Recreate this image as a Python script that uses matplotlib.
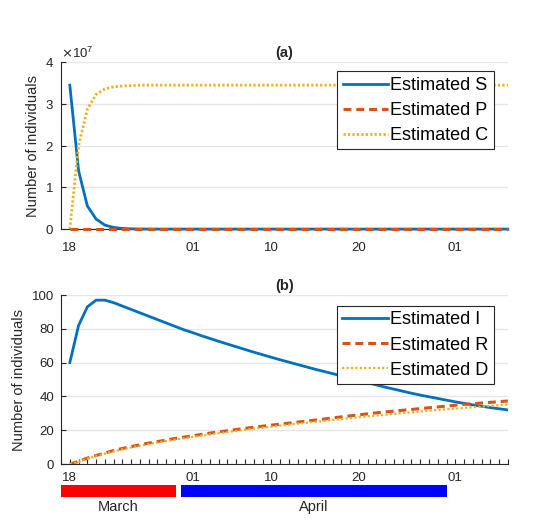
import numpy as np
import pandas as pd
import matplotlib
matplotlib.use("Agg")
import matplotlib.pyplot as plt
import matplotlib.dates as mdates
from matplotlib.ticker import ScalarFormatter

plt.rcParams['font.family'] = ['Liberation Sans', 'DejaVu Sans']

# 18 March -> 7 May, one value per day
dates = pd.date_range("2020-03-18", periods=51, freq="D")

# panel (a), number of individuals
S = [3.45e7, 1.40e7, 0.555e7, 0.24e7, 0.095e7, 0.04e7, 0.015e7, 0.006e7, 0.002e7, 0.001e7,
     0, 0, 0, 0, 0, 0, 0, 0, 0, 0,
     0, 0, 0, 0, 0, 0, 0, 0, 0, 0,
     0, 0, 0, 0, 0, 0, 0, 0, 0, 0,
     0, 0, 0, 0, 0, 0, 0, 0, 0, 0, 0]
P = [0, 0, 0, 0, 0, 0, 0, 0, 0, 0,
     0, 0, 0, 0, 0, 0, 0, 0, 0, 0,
     0, 0, 0, 0, 0, 0, 0, 0, 0, 0,
     0, 0, 0, 0, 0, 0, 0, 0, 0, 0,
     0, 0, 0, 0, 0, 0, 0, 0, 0, 0, 0]
C = [0, 2.0e7, 2.87e7, 3.23e7, 3.36e7, 3.41e7, 3.43e7, 3.44e7, 3.45e7, 3.45e7,
     3.45e7, 3.45e7, 3.45e7, 3.45e7, 3.45e7, 3.45e7, 3.45e7, 3.45e7, 3.45e7, 3.45e7,
     3.45e7, 3.45e7, 3.45e7, 3.45e7, 3.45e7, 3.45e7, 3.45e7, 3.45e7, 3.45e7, 3.45e7,
     3.45e7, 3.45e7, 3.45e7, 3.45e7, 3.45e7, 3.45e7, 3.45e7, 3.45e7, 3.45e7, 3.45e7,
     3.45e7, 3.45e7, 3.45e7, 3.45e7, 3.45e7, 3.45e7, 3.45e7, 3.45e7, 3.45e7, 3.45e7, 3.45e7]

# panel (b)
I = [60, 82, 93, 97, 97, 95.5, 93.5, 91.5, 89.5, 87.5,
     85.5, 83.5, 81.5, 79.5, 77.8, 76, 74.3, 72.6, 71, 69.4,
     67.8, 66.2, 64.7, 63.2, 61.7, 60.3, 58.9, 57.5, 56.1, 54.8,
     53.5, 52.2, 50.9, 49.4, 48.1, 46.8, 45.5, 44.3, 43.1, 41.9,
     40.8, 39.8, 38.8, 37.8, 36.8, 35.9, 35.0, 34.2, 33.4, 32.7, 32.0]
R = [0, 1.5, 3.5, 5, 6.5, 8, 9.2, 10.3, 11.4, 12.4,
     13.3, 14.2, 15.1, 15.9, 16.7, 17.5, 18.3, 19, 19.7, 20.4,
     21.1, 21.8, 22.4, 23, 23.6, 24.2, 24.8, 25.4, 26, 26.6,
     27.3, 27.9, 28.5, 29.1, 29.7, 30.3, 30.8, 31.3, 31.8, 32.3,
     32.8, 33.3, 33.8, 34.3, 34.8, 35.3, 35.7, 36.1, 36.5, 36.9, 37.3]
D = [0, 1.2, 3.2, 4.7, 6.1, 7.5, 8.7, 9.8, 10.8, 11.8,
     12.7, 13.6, 14.4, 15.2, 16, 16.8, 17.5, 18.2, 18.9, 19.6,
     20.3, 20.9, 21.5, 22.1, 22.7, 23.3, 23.9, 24.4, 25, 25.5,
     26.1, 26.6, 27.2, 27.7, 28.2, 28.7, 29.2, 29.7, 30.2, 30.6,
     31.1, 31.5, 32, 32.4, 32.8, 33.2, 33.6, 34, 34.4, 34.8, 35.2]

tick_dates = ["2020-03-18", "2020-04-01", "2020-04-10", "2020-04-20", "2020-05-01"]
x_range = ["2020-03-17", "2020-05-07"]

months = ["March", "April"]
month_start = ["2020-03-17 00:00", "2020-03-30 16:30"]
month_end = ["2020-03-30 03:00", "2020-04-30 00:00"]
month_colors = ["#ff0000", "#0000ff"]

blue = "#0072BD"
orange = "#D95319"
yellow = "#EDB120"
dark = "#262626"


def style_axis(ax):
    ax.set_xlim(pd.to_datetime(x_range[0]), pd.to_datetime(x_range[1]))
    ax.set_xticks(pd.to_datetime(tick_dates))
    ax.xaxis.set_major_formatter(mdates.DateFormatter("%d"))
    ax.xaxis.set_minor_locator(mdates.DayLocator())
    ax.spines["top"].set_visible(False)
    ax.spines["right"].set_visible(False)
    for s in ["left", "bottom"]:
        ax.spines[s].set_color(dark)
        ax.spines[s].set_linewidth(0.8)
    ax.tick_params(which="both", direction="in", colors=dark, labelsize=9.5, length=3.5, width=0.8)
    ax.tick_params(axis="x", pad=6)
    ax.tick_params(axis="y", pad=5)
    ax.grid(axis="y", color="#e6e6e6", linewidth=1)
    ax.set_axisbelow(True)
    ax.set_ylabel("Number of individuals", fontsize=10.5, color=dark, labelpad=4)


def add_legend(ax, top):
    leg = ax.legend(loc="upper right", bbox_to_anchor=(0.969, top), borderaxespad=0,
                    fontsize=13, handlelength=2.5, handletextpad=0.15, labelspacing=0.45,
                    borderpad=0.3, fancybox=False, framealpha=1, edgecolor=dark)
    leg.get_frame().set_linewidth(0.8)
    leg.set_zorder(10)
    return leg


fig = plt.figure(figsize=(5.55, 5.23), dpi=100)

# (a)
ax1 = fig.add_axes([0.110, 0.562, 0.805, 0.319])
ax1.plot(dates, S, color=blue, lw=2.0, label="Estimated S", clip_on=False, zorder=3)
ax1.plot(dates, P, color=orange, lw=2.2, dashes=(2.6, 1.6), label="Estimated P", clip_on=False, zorder=4)
ax1.plot(dates, C, color=yellow, lw=2.0, dashes=(0.8, 0.8), label="Estimated C", clip_on=False, zorder=4)
ax1.set_ylim(0, 4e7)
ax1.set_yticks([0, 1e7, 2e7, 3e7, 4e7])
fmt = ScalarFormatter(useMathText=True)
ax1.yaxis.set_major_formatter(fmt)
style_axis(ax1)
# the day ticks are covered by the lines lying on zero
ax1.tick_params(axis="x", which="both", length=0, pad=9)
ax1.yaxis.get_offset_text().set_fontsize(9.5)
ax1.yaxis.get_offset_text().set_color(dark)
ax1.set_title("(a)", fontsize=10.5, fontweight="bold", color=dark, pad=4)
add_legend(ax1, 0.945)

# (b)
ax2 = fig.add_axes([0.110, 0.1128, 0.805, 0.323])
ax2.plot(dates, I, color=blue, lw=2.0, label="Estimated I")
ax2.plot(dates, R, color=orange, lw=2.2, dashes=(2.6, 1.6), label="Estimated R")
ax2.plot(dates, D, color=yellow, lw=1.6, dashes=(1, 1), label="Estimated D")
ax2.set_ylim(0, 100)
ax2.set_yticks([0, 20, 40, 60, 80, 100])
style_axis(ax2)
ax2.set_title("(b)", fontsize=10.5, fontweight="bold", color=dark, pad=4)
add_legend(ax2, 0.935)

# month bars under panel (b)
axm = fig.add_axes([0.110, 0.0497, 0.805, 0.023])
axm.set_xlim(mdates.date2num(pd.to_datetime(x_range[0])), mdates.date2num(pd.to_datetime(x_range[1])))
axm.set_ylim(0, 1)
for name, a, b, col in zip(months, month_start, month_end, month_colors):
    x0 = mdates.date2num(pd.to_datetime(a))
    x1 = mdates.date2num(pd.to_datetime(b))
    axm.barh(0.5, x1 - x0, left=x0, height=1, color=col)
    axm.text((x0 + x1) / 2, -0.25, name, ha="center", va="top", fontsize=10.5, color=dark)
axm.axis("off")

fig.savefig("out.png", dpi=100)
